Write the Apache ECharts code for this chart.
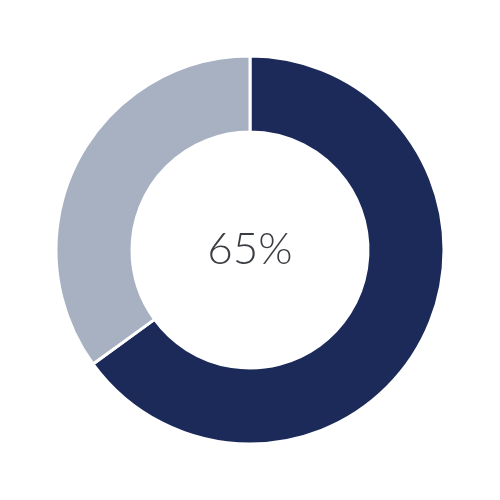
<!DOCTYPE html>
<html><head><meta charset="utf-8">
<script src="https://cdn.jsdelivr.net/npm/echarts@6/dist/echarts.min.js"></script>
<style>html,body{margin:0;padding:0;background:#fff}#c{width:500px;height:500px}</style>
</head><body><div id="c"></div>
<script>
const categories = ['Share', 'Remainder'];
const values = [65, 35];
const centerLabel = '65%';
const colors = ['#1b2a58', '#a7b1c2'];
const chart = echarts.init(document.getElementById('c'));
chart.setOption({
  animation: false,
  title: { text: centerLabel, left: 'center', top: 'middle',
    textStyle: { fontFamily: 'Lato', fontWeight: 300, fontSize: 44, color: '#3a3d42' } },
  series: [{
    type: 'pie', radius: [118, 194], center: [250, 250], startAngle: 90, clockwise: true,
    label: { show: false }, labelLine: { show: false },
    itemStyle: { borderColor: '#fff', borderWidth: 3 },
    data: categories.map((n, i) => ({ name: n, value: values[i], itemStyle: { color: colors[i] } }))
  }]
});
</script></body></html>
